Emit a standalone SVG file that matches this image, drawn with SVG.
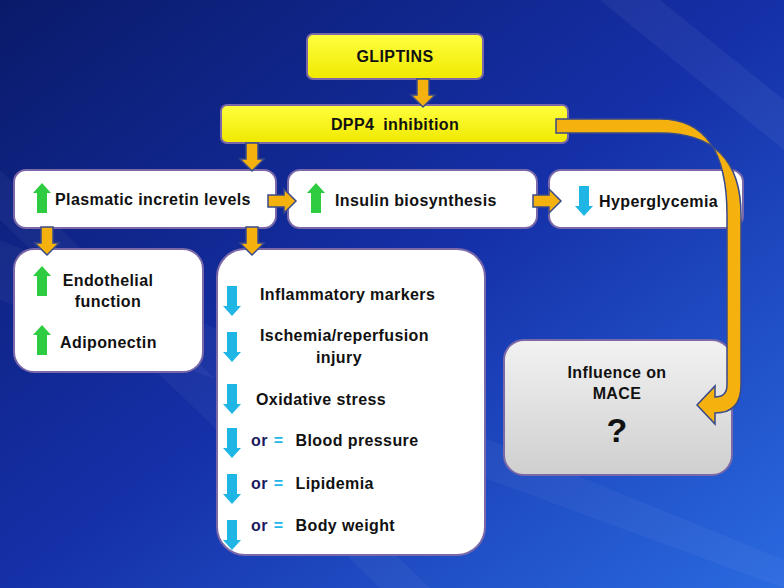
<svg xmlns="http://www.w3.org/2000/svg" width="784" height="588" viewBox="0 0 784 588">
<defs>
<linearGradient id="bg" x1="0" y1="0" x2="1" y2="1">
<stop offset="0" stop-color="#0a1a6a"/><stop offset="0.5" stop-color="#1530a8"/><stop offset="1" stop-color="#2a6ae0"/>
</linearGradient>
<linearGradient id="yl" x1="0" y1="0" x2="0" y2="1"><stop offset="0" stop-color="#ffff40"/><stop offset="1" stop-color="#f0e800"/></linearGradient>
<linearGradient id="gy" x1="0" y1="0" x2="0" y2="1"><stop offset="0" stop-color="#f2f2f2"/><stop offset="1" stop-color="#cfcfcf"/></linearGradient>
<path id="up" d="M-5,14 V-6 H-9 L0,-16 L9,-6 H5 V14 Z" fill="#2ecc40"/>
<path id="dn" d="M-5,-14 V6 H-9 L0,16 L9,6 H5 V-14 Z" fill="#1fb6e6"/>
<path id="oa" d="M-6,-14 V2 H-12 L0,14 L12,2 H6 V-14 Z" fill="#f5b20f" stroke="#3a4a8a" stroke-width="1.5"/>
</defs>
<style>
.box{fill:#fff;stroke:#7a68a8;stroke-width:2}
.yb{fill:url(#yl);stroke:#7a68a8;stroke-width:2}
text{font-family:"Liberation Sans",Arial,sans-serif;font-weight:bold;font-size:16px;fill:#111;letter-spacing:0.4px}
.c{text-anchor:middle}
.or{fill:#1a1a60}.eq{fill:#1fb6e6}
</style>
<rect width="784" height="588" fill="url(#bg)"/>
<path d="M0,240 L784,560 L784,588 L0,300 Z" fill="#ffffff" opacity="0.04"/>
<path d="M0,170 L430,588 L380,588 L0,220 Z" fill="#ffffff" opacity="0.04"/>
<path d="M600,0 L784,150 L784,100 L660,0 Z" fill="#ffffff" opacity="0.05"/>

<g id="gliptins"><rect class="yb" x="307" y="34" width="176" height="45" rx="6"/><text class="c" x="395" y="62">GLIPTINS</text></g>
<g id="dpp4"><rect class="yb" x="221" y="105" width="347" height="38" rx="6"/><text class="c" x="395" y="130">DPP4 <tspan dx="4">inhibition</tspan></text></g>
<g id="plasmatic"><rect class="box" x="14" y="170" width="262" height="58" rx="12"/><use href="#up" transform="translate(42,199)"/><text x="55" y="205">Plasmatic incretin levels</text></g>
<g id="insulin"><rect class="box" x="288" y="170" width="249" height="58" rx="12"/><use href="#up" transform="translate(316,199)"/><text x="335" y="206">Insulin biosynthesis</text></g>
<g id="hyper"><rect class="box" x="549" y="170" width="194" height="58" rx="12"/><use href="#dn" transform="translate(584,200)"/><text x="599" y="207">Hyperglycemia</text></g>
<g id="endo"><rect class="box" x="14" y="249" width="189" height="123" rx="20"/>
<use href="#up" transform="translate(42,282)"/><text class="c" x="108" y="286">Endothelial</text><text class="c" x="108" y="307">function</text>
<use href="#up" transform="translate(42,341)"/><text x="60" y="348">Adiponectin</text></g>
<g id="list"><rect class="box" x="217" y="249" width="268" height="306" rx="28"/>
<use href="#dn" transform="translate(232,300)"/><text x="260" y="300">Inflammatory markers</text>
<use href="#dn" transform="translate(232,346)"/><text x="260" y="341">Ischemia/reperfusion</text><text x="316" y="363">injury</text>
<use href="#dn" transform="translate(232,398)"/><text x="256" y="405">Oxidative stress</text>
<use href="#dn" transform="translate(232,442)"/><text x="251" y="446"><tspan class="or">or</tspan><tspan class="eq" dx="6">=</tspan><tspan dx="12">Blood pressure</tspan></text>
<use href="#dn" transform="translate(232,488)"/><text x="251" y="489"><tspan class="or">or</tspan><tspan class="eq" dx="6">=</tspan><tspan dx="12">Lipidemia</tspan></text>
<use href="#dn" transform="translate(232,534)"/><text x="251" y="531"><tspan class="or">or</tspan><tspan class="eq" dx="6">=</tspan><tspan dx="12">Body weight</tspan></text></g>
<g id="mace"><rect x="504" y="340" width="228" height="135" rx="20" fill="url(#gy)" stroke="#7a68a8" stroke-width="2"/>
<text class="c" x="617" y="378">Influence on</text><text class="c" x="617" y="399">MACE</text><text class="c" x="617" y="442" style="font-size:34px">?</text></g>

<g id="connectors">
<use href="#oa" transform="translate(423,93)"/>
<use href="#oa" transform="translate(252,157)"/>
<use href="#oa" transform="translate(47,241)"/>
<use href="#oa" transform="translate(252,241)"/>
<use href="#oa" transform="translate(282,201) rotate(-90)"/>
<use href="#oa" transform="translate(547,201) rotate(-90)"/>
<path d="M556,119 H660 Q727,119 727,215 V385 Q727,397 715,397 V386 L697,405 L715,424 V413 Q741,413 741,385 V215 Q741,133 660,133 H556 Z" fill="#f5b20f" stroke="#3a4a8a" stroke-width="1.5"/>
</g>
</svg>
